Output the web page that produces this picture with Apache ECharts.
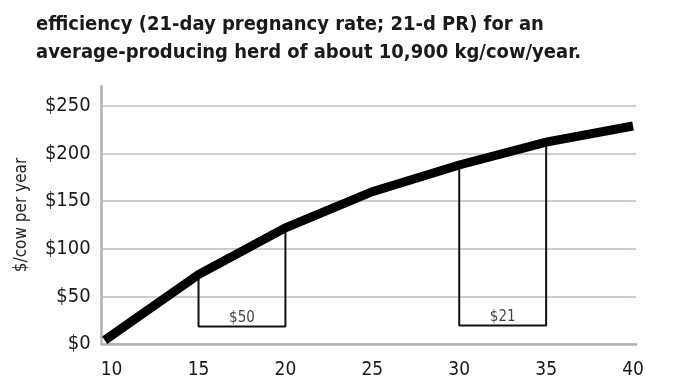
<!DOCTYPE html>
<html>
<head>
<meta charset="utf-8">
<script src="https://cdn.jsdelivr.net/npm/echarts@6/dist/echarts.min.js"></script>
<style>html,body{margin:0;padding:0;background:#fff;}#c{width:680px;height:380px;}</style>
</head>
<body>
<div id="c"></div>
<script>
var titleLines = ['efficiency (21-day pregnancy rate; 21-d PR) for an', 'average-producing herd of about 10,900 kg/cow/year.'];
var yAxisName = '$/cow per year';
var prValues = [9.6, 15, 20, 25, 30, 35, 40];
var dollarValues = [4, 73, 122, 160, 188, 212, 229];
var xTicks = [10, 15, 20, 25, 30, 35, 40];
var yTicks = [0, 50, 100, 150, 200, 250];
var boxStarts = [15, 30];
var boxEnds = [20, 35];
var boxBases = [18.5, 19.5];
var boxLabels = ['$50', '$21'];

var FONT = '"DejaVu Sans Condensed", "Liberation Sans Narrow", Roboto, sans-serif';
function valueAt(x) {
  var i = prValues.indexOf(x);
  return dollarValues[i];
}
var series = [{
  type: 'line',
  data: prValues.map(function (x, i) { return [x, dollarValues[i]]; }),
  symbol: 'none',
  lineStyle: { color: '#000', width: 9, cap: 'butt', join: 'miter' },
  z: 5,
  silent: true
}];
boxStarts.forEach(function (s, i) {
  var e = boxEnds[i], b = boxBases[i];
  series.push({
    type: 'line',
    data: [[s, valueAt(s)], [s, b], [e, b], [e, valueAt(e)]],
    symbol: 'none',
    lineStyle: { color: '#111', width: 2 },
    z: 3,
    silent: true
  });
  series.push({
    type: 'scatter',
    data: [[(s + e) / 2, b]],
    symbolSize: 0,
    label: {
      show: true, position: 'top', distance: 1, formatter: boxLabels[i],
      color: '#111', fontSize: 15, fontFamily: FONT
    },
    z: 4,
    silent: true
  });
});

var chart = echarts.init(document.getElementById('c'), null, { renderer: 'canvas' });
chart.setOption({
  animation: false,
  backgroundColor: '#fff',
  title: {
    text: titleLines.join('\n'),
    left: 31, top: 6,
    textStyle: { fontFamily: FONT, fontWeight: 'bold', fontSize: 20, lineHeight: 28, color: '#1a1a1a' }
  },
  grid: { left: 101.7, right: 44, top: 86, bottom: 33.5, containLabel: false },
  xAxis: {
    type: 'value', min: 9.43, max: 40.17,
    axisLine: { show: true, lineStyle: { color: '#b3b3b3', width: 2.5 } },
    axisTick: { show: false, customValues: xTicks },
    splitLine: { show: false },
    axisLabel: { customValues: xTicks, color: '#1a1a1a', fontSize: 19, fontFamily: FONT, margin: 17 }
  },
  yAxis: {
    type: 'value', min: 0, max: 271,
    name: yAxisName, nameLocation: 'middle', nameGap: 72, nameRotate: 90,
    nameTextStyle: { fontFamily: FONT, fontSize: 17, color: '#222' },
    axisLine: { show: true, lineStyle: { color: '#b3b3b3', width: 2.5 } },
    axisTick: { show: false, customValues: yTicks },
    splitLine: { show: true, lineStyle: { color: '#dcc3de', width: 2 } },
    axisLabel: { customValues: yTicks, formatter: '${value}', color: '#1a1a1a', fontSize: 20, fontFamily: FONT, margin: 11 }
  },
  series: series
});
</script>
</body>
</html>
